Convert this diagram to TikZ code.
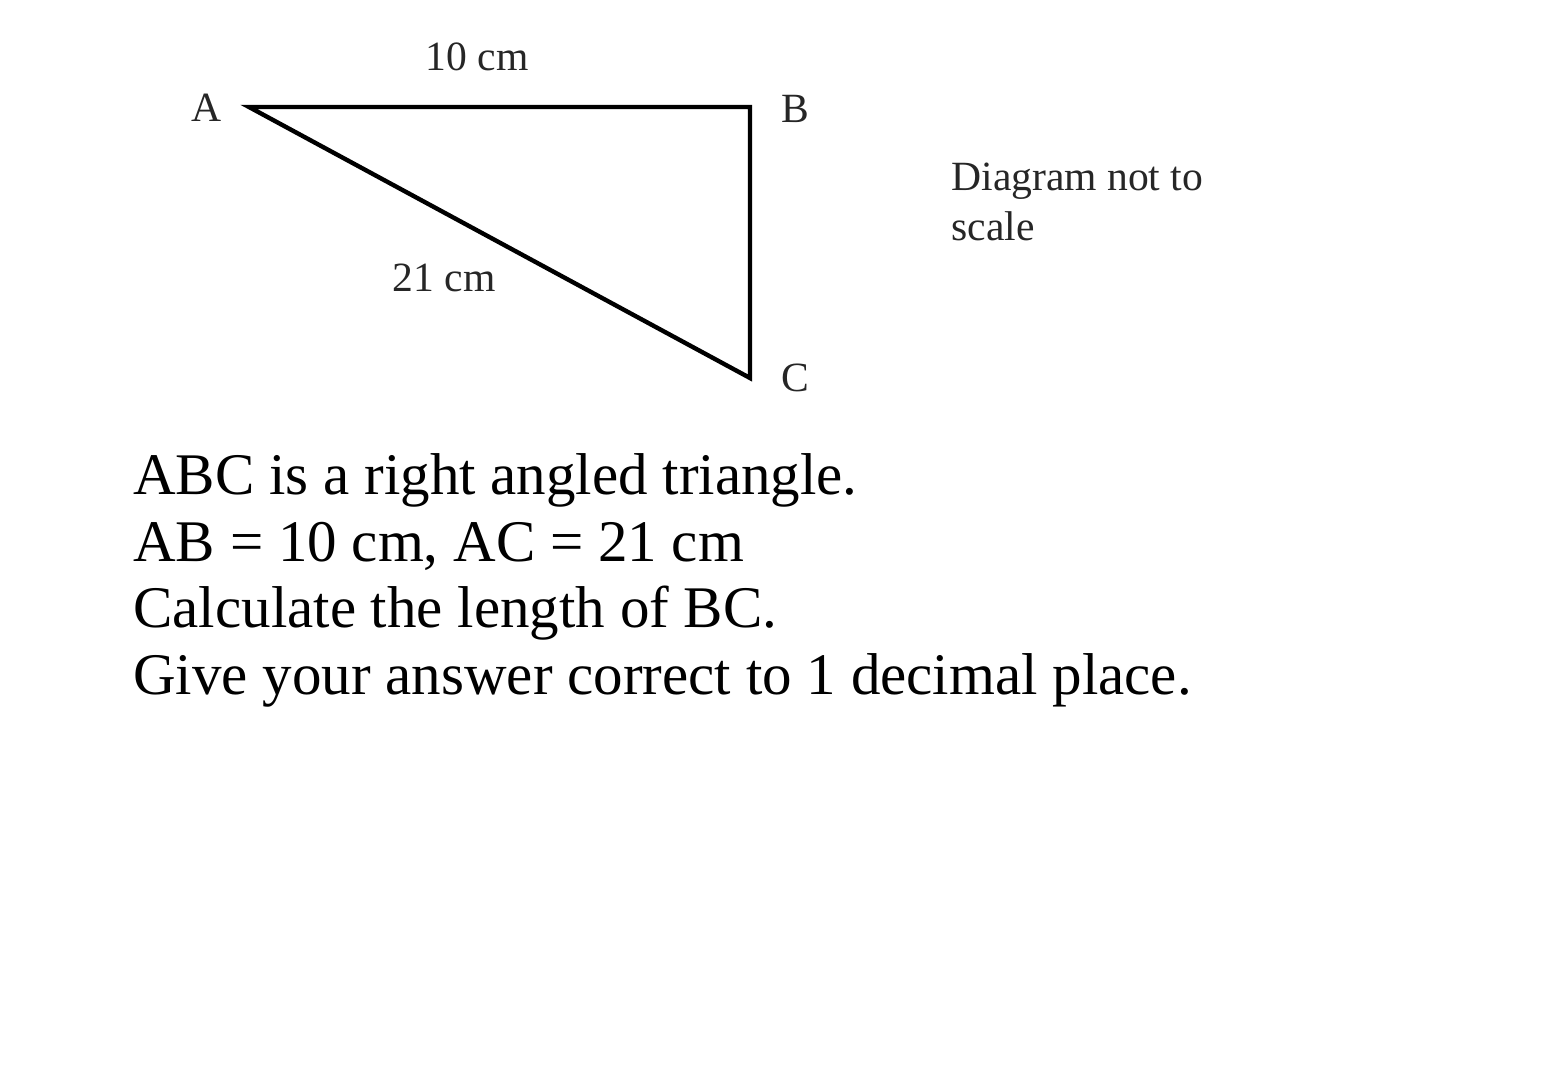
\documentclass[tikz,border=0pt]{standalone}
\usepackage{fontspec}
\setmainfont{Liberation Serif}
\begin{document}
\begin{tikzpicture}[x=0.5pt,y=-0.5pt,
  lbl/.style={font=\fontsize{20.8}{24}\selectfont, anchor=base, inner sep=0pt, text=black!85},
  big/.style={font=\fontsize{29.5}{33}\selectfont, anchor=base west, inner sep=0pt},
  side/.style={line width=2.2pt, line join=miter}]
\useasboundingbox (0,0) rectangle (1559,1077);
\coordinate (A) at (249,107);
\coordinate (B) at (750,107);
\coordinate (C) at (750,378);
\draw[side] (A) -- (B) -- (C) -- cycle;
\node[lbl] (la) at (207,121) {A};
\node[lbl] (lb) at (795,122) {B};
\node[lbl] (lc) at (795,391) {C};
\node[lbl] (lab) at (477,70) {10 cm};
\node[lbl] (lac) at (444,291) {21 cm};
\node[lbl, anchor=base west] (n1) at (951,190) {Diagram not to};
\node[lbl, anchor=base west] (n2) at (951,240) {scale};
\node[big] (t1) at (133,494) {ABC is a right angled triangle.};
\node[big] (t2) at (133,561) {AB = 10 cm, AC = 21 cm};
\node[big] (t3) at (133,627) {Calculate the length of BC.};
\node[big] (t4) at (133,694) {Give your answer correct to 1 decimal place.};
\end{tikzpicture}
\end{document}
